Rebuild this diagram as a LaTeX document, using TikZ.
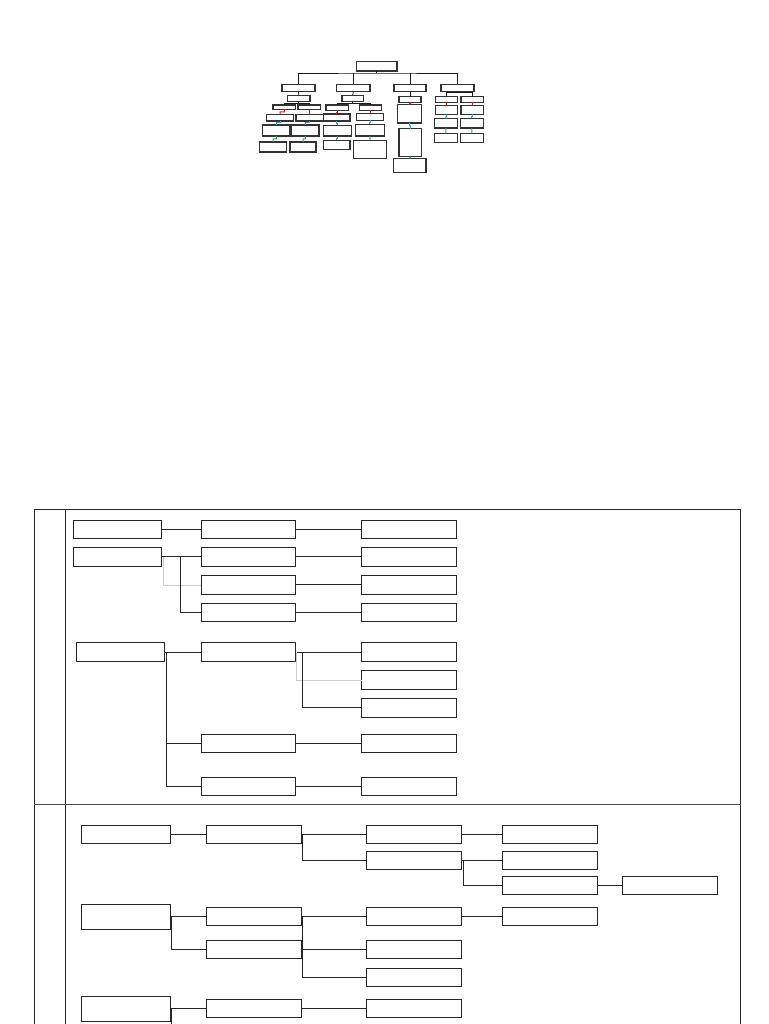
\documentclass[tikz,border=0pt]{standalone}
\usetikzlibrary{calc}
\definecolor{cred}{HTML}{ED1C24}
\definecolor{cblue}{HTML}{29ABE2}
\definecolor{cgreen}{HTML}{22B14C}
\tikzset{
  tb/.style={draw=black!80,line width=1.2pt,inner sep=0pt,outer sep=0pt,fill=white},
  bb/.style={draw=black!85,line width=1pt,inner sep=0pt,outer sep=0pt,fill=white},
  tl/.style={draw=black!90,line width=0.8pt},
  bl/.style={draw=black!85,line width=0.9pt},
  faint/.style={draw=black!20,line width=0.6pt},
  frame/.style={draw=black!85,line width=1pt},
}
\newcommand{\bx}[6][bb]{%
  \pgfmathsetmacro\bxw{#4-#2}\pgfmathsetmacro\bxh{#5-#3}%
  \pgfmathsetmacro\bxx{(#2+#4)/2}\pgfmathsetmacro\bxy{(#3+#5)/2}%
  \node[#1,minimum width=\bxw pt,minimum height=\bxh pt] (#6) at (\bxx,\bxy) {};}
\newcommand{\jog}[3]{\draw[#1,line width=1pt] (#2.south) -- ($(#2.south)!0.5!(#2.south |- #3.north)$) -| (#3.north);}
\newcommand{\hc}[2]{\draw[bl] (#2.west) -- (#2.west -| #1.east);}
\begin{document}
\begin{tikzpicture}[x=1pt,y=-1pt]
\useasboundingbox[fill=white] (0,0) rectangle (768,1024);
% ---------- top tree ----------
\bx[tb]{356.5}{61.5}{397}{71}{root}
\bx[tb]{282}{84.3}{315}{91.3}{A}
\bx[tb]{336.7}{84.3}{370}{91.3}{B}
\bx[tb]{394}{84.3}{426}{91.3}{C}
\bx[tb]{441}{84.3}{474}{91.3}{D}
\bx[tb]{287.7}{95.5}{310}{101.3}{Ap}
\bx[tb]{273}{105}{295.7}{109.5}{A1}
\bx[tb]{298}{105}{320.7}{109.5}{A2}
\bx[tb]{266.7}{114.3}{293.3}{121}{A1c}
\bx[tb]{296}{114.3}{323.3}{121}{A2c}
\bx[tb]{262.7}{125}{290}{136}{A1cc}
\bx[tb]{291.7}{125}{319}{136}{A2cc}
\bx[tb]{259.3}{142}{286.7}{152}{A1d}
\bx[tb]{290}{142}{316}{152}{A2d}
\bx[tb]{342}{95.5}{363.3}{101.3}{Bp}
\bx[tb]{326}{105}{348.3}{110.3}{B1}
\bx[tb]{359.3}{105}{381.7}{110.3}{B2}
\bx[tb]{323.3}{114}{350}{121}{B1c}
\bx[tb]{356.7}{113.3}{383.3}{120.3}{B2c}
\bx[tb]{323.3}{125.5}{351.7}{136}{B1cc}
\bx[tb]{355.3}{124.3}{384.3}{136}{B2cc}
\bx[tb]{323.3}{140.3}{350}{149.7}{B1d}
\bx[tb]{353.3}{140.3}{386.7}{158.3}{B2d}
\bx[tb]{399}{96.5}{421}{102.3}{Cp}
\bx[tb]{397.7}{104.8}{421.7}{123}{C2}
\bx[tb]{399}{128.8}{421.7}{156.3}{C3}
\bx[tb]{393.5}{158.8}{426}{172.8}{C4}
\bx[tb]{435.3}{96.8}{457.3}{102.3}{D1}
\bx[tb]{461}{96.8}{483.3}{102.3}{D2}
\bx[tb]{435.3}{105.5}{457.3}{114.5}{D1a}
\bx[tb]{461}{105.5}{483.3}{114.5}{D2a}
\bx[tb]{434.3}{118.5}{457.3}{128}{D1b}
\bx[tb]{460.3}{118.5}{483.3}{128}{D2b}
\bx[tb]{434.3}{133.3}{457.3}{142.5}{D1c}
\bx[tb]{460.3}{133.3}{483.3}{142.5}{D2c}
% black connectors
\coordinate (bus) at ($(root.south)+(0,2)$);
\draw[tl] (root.south) -- (bus);
\draw[tl] (A.north) |- (bus) -| (D.north);
\draw[tl] (B.north) -- (B.north |- bus);
\draw[tl] (C.north) -- (C.north |- bus);
\draw[tl] (A.south) -- (Ap.north);
\draw[tl] (B.south) -- (Bp.north);
\draw[tl] (C.south) -- (C.south -| Cp.north) -- (Cp.north);
\coordinate (abar) at ($(Ap.south)+(0,1.8)$);
\draw[tl] (Ap.south) -- (abar);
\draw[tl] (A1.north) |- (abar) -| (A2.north);
\coordinate (bbar) at ($(Bp.south)+(0,1.8)$);
\draw[tl] (Bp.south) -- (bbar);
\draw[tl] (B1.north) |- (bbar) -| (B2.north);
\coordinate (dbar) at ($(D.south)+(0,1.4)$);
\draw[tl] (D.south) -- (dbar);
\draw[tl] (D1.north) |- (dbar) -| (D2.north);
% coloured connectors
\jog{cred}{A1}{A1c}\jog{cred}{A2}{A2c}\jog{cred}{B1}{B1c}\jog{cred}{B2}{B2c}
\jog{cred}{Cp}{C2}\jog{cred}{D1}{D1a}\jog{cred}{D2}{D2a}
\jog{cblue}{A1c}{A1cc}\jog{cblue}{A2c}{A2cc}\jog{cblue}{B1c}{B1cc}\jog{cblue}{B2c}{B2cc}
\jog{cblue}{C2}{C3}\jog{cblue}{D1a}{D1b}\jog{cblue}{D2a}{D2b}
\jog{cgreen}{A1cc}{A1d}\jog{cgreen}{A2cc}{A2d}\jog{cgreen}{B1cc}{B1d}\jog{cgreen}{B2cc}{B2d}
\jog{cgreen}{C3}{C4}\jog{cgreen}{D1b}{D1c}\jog{cgreen}{D2b}{D2c}
% ---------- bottom frame ----------
\coordinate (fTL) at (34,509.3);
\coordinate (fTR) at (740.5,509.3);
\coordinate (fBL) at (34,1024);
\coordinate (fBR) at (740.5,1024);
\coordinate (iT) at (65,509.3);
\coordinate (iB) at (65,1024);
\coordinate (dL) at (34,804.5);
\coordinate (dR) at (740.5,804.5);
\draw[frame] (fBL) -- (fTL) -- (fTR) -- (fBR);
\draw[frame] (iT) -- (iB);
\draw[frame,draw=black!70,line width=1.2pt] (dL) -- (dR);
% ---------- section 1 ----------
\bx{73.3}{520}{161.7}{538.3}{s1a1}
\bx{201.3}{520}{295.7}{538.3}{s1a2}
\bx{361.7}{520}{456}{538.3}{s1a3}
\bx{73.3}{547.7}{161.7}{566}{s1b1}
\bx{201.3}{547.7}{295.7}{566}{s1b2}
\bx{361.7}{547.7}{456}{566}{s1b3}
\bx{201.3}{575.7}{295.7}{594}{s1c2}
\bx{361.7}{575.7}{456}{594}{s1c3}
\bx{201.3}{603.3}{295.7}{621.7}{s1d2}
\bx{361.7}{603.3}{456}{621.7}{s1d3}
\bx{76.7}{642.7}{164.7}{661.7}{s1e1}
\bx{201.3}{642.7}{295.7}{661.7}{s1e2}
\bx{361.7}{642.7}{456}{661.7}{s1e3}
\bx{361.7}{670.7}{456}{689.3}{s1f3}
\bx{361.7}{698.3}{456}{717.3}{s1g3}
\bx{201.3}{734.3}{295.7}{752.7}{s1h2}
\bx{361.7}{734.3}{456}{752.7}{s1h3}
\bx{201.3}{777}{295.7}{795.3}{s1i2}
\bx{361.7}{777}{456}{795.3}{s1i3}
\hc{s1a1}{s1a2}\hc{s1a2}{s1a3}
\hc{s1b1}{s1b2}\hc{s1b2}{s1b3}\hc{s1c2}{s1c3}\hc{s1d2}{s1d3}
\draw[faint] ($(s1b1.east)+(1.6,0)$) |- (s1c2.west);
\draw[bl] ($(s1b1.east)+(18.3,0)$) |- (s1d2.west);
\hc{s1e1}{s1e2}\hc{s1e2}{s1e3}
\draw[bl] ($(s1e1.east)+(2,0)$) |- (s1h2.west);
\draw[bl] ($(s1e1.east)+(2,0)$) |- (s1i2.west);
\draw[faint] ($(s1e2.east)+(1,0)$) |- (s1f3.west);
\draw[bl] ($(s1e2.east)+(7,0)$) |- (s1g3.west);
\hc{s1h2}{s1h3}\hc{s1i2}{s1i3}
% ---------- section 2 ----------
\bx{81.7}{825.3}{170.2}{843.7}{s2a1}
\bx{206.4}{825.3}{301.4}{843.7}{s2a2}
\bx{366.8}{825.3}{461.8}{843.7}{s2a3}
\bx{502.7}{825.3}{597.3}{843.7}{s2a4}
\bx{366.8}{851}{461.8}{869.3}{s2b3}
\bx{502.7}{851}{597.3}{869.3}{s2b4}
\bx{502.7}{876.3}{597.3}{894.7}{s2c4}
\bx{622.2}{876.3}{717.2}{894.7}{s2c5}
\bx{81.7}{904.3}{170.2}{929.3}{s2d1}
\bx{206.4}{907.3}{301.4}{925.7}{s2d2}
\bx{366.8}{907.3}{461.8}{925.7}{s2d3}
\bx{502.7}{907.3}{597.3}{925.7}{s2d4}
\bx{206.4}{940.7}{301.4}{958.7}{s2e2}
\bx{366.8}{940.7}{461.8}{958.7}{s2e3}
\bx{366.8}{968.3}{461.8}{986}{s2f3}
\bx{81.7}{996.3}{170.2}{1021.7}{s2g1}
\bx{206.4}{999.3}{301.4}{1017.3}{s2g2}
\bx{366.8}{999.3}{461.8}{1017.3}{s2g3}
\hc{s2a1}{s2a2}\hc{s2a2}{s2a3}\hc{s2a3}{s2a4}
\draw[bl] ($(s2a2.east)+(1.4,0)$) |- (s2b3.west);
\hc{s2b3}{s2b4}
\draw[bl] ($(s2b3.east)+(1.4,0)$) |- (s2c4.west);
\hc{s2c4}{s2c5}
\hc{s2d1}{s2d2}
\draw[bl] ($(s2d2.west -| s2d1.east)+(0.8,0)$) |- (s2e2.west);
\hc{s2d2}{s2d3}\hc{s2d3}{s2d4}
\draw[bl] ($(s2d2.east)+(1.4,0)$) |- (s2e3.west);
\draw[bl] ($(s2d2.east)+(1.4,0)$) |- (s2f3.west);
\hc{s2g1}{s2g2}\hc{s2g2}{s2g3}
\coordinate (s2end) at (171,1024);
\draw[bl] ($(s2g2.west -| s2g1.east)+(0.8,0)$) -- (s2end);
\end{tikzpicture}
\end{document}
